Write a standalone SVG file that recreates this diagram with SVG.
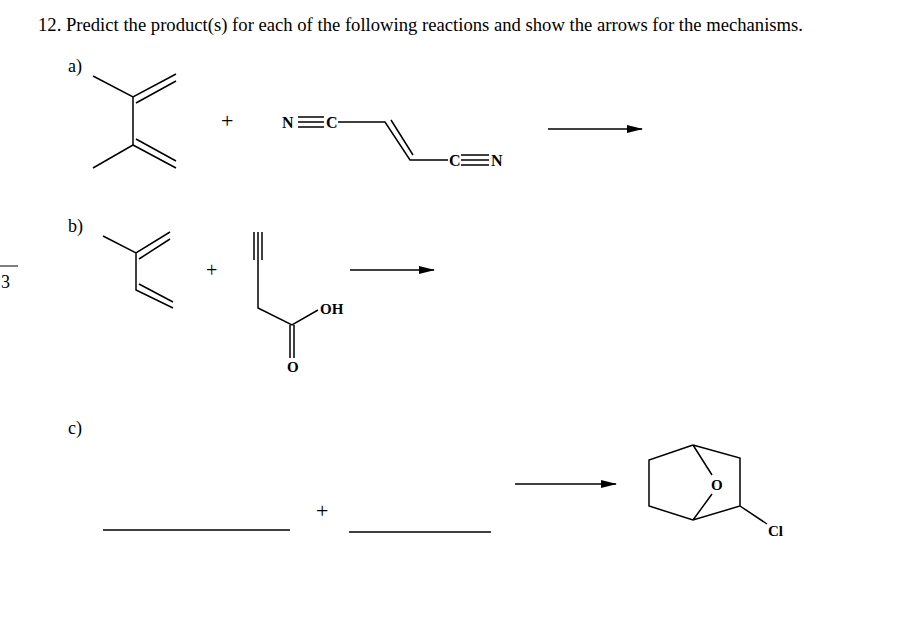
<svg xmlns="http://www.w3.org/2000/svg" width="913" height="625" viewBox="0 0 913 625">
<defs><marker id="ah" markerWidth="16" markerHeight="8" refX="15" refY="4" orient="auto" markerUnits="userSpaceOnUse"><path d="M0,0 L16,4 L0,8 Z" fill="#000"/></marker></defs>
<style>
.b{stroke:#000;stroke-width:1.5;fill:none}
.ar{stroke:#000;stroke-width:1.5;marker-end:url(#ah)}
</style>
<rect width="913" height="625" fill="#fff"/>
<g font-family="Liberation Serif, Times New Roman, serif" font-size="18" fill="#000">
<text x="38" y="31" textLength="765" lengthAdjust="spacingAndGlyphs">12.  Predict the product(s) for each of the following reactions and show the arrows for the mechanisms.</text>
<text x="68" y="72">a)</text>
<text x="68" y="232">b)</text>
<text x="68" y="434">c)</text>
<text x="1" y="288">3</text>
</g>
<line class="b" x1="0" y1="266" x2="18" y2="266" style="stroke-width:1"/>
<g id="diene-a" class="b">
<path d="M93,76 L133,97 L176,74 M136,103 L176,81 M133,97 L133,145 L93,168 M133,145 L176,168 M136,139 L176,161"/>
</g>
<g id="plus-a" font-family="Liberation Serif, serif" font-size="22"><text x="221" y="128">+</text></g>
<g id="fumaronitrile" font-family="Liberation Serif, serif" font-size="16" font-weight="bold">
<text x="282" y="128">N</text>
<path class="b" d="M298,117 L324,117 M298,122 L324,122 M298,127 L324,127"/>
<text x="326" y="128">C</text>
<path class="b" d="M338,122 L385,122 L410,160 L448,160 M391,120 L413,155"/>
<text x="449" y="166">C</text>
<path class="b" d="M461,155 L489,155 M461,160 L489,160 M461,165 L489,165"/>
<text x="491" y="166">N</text>
</g>
<g id="diene-b" class="b">
<path d="M103,236 L136,253 L170,232 M139,259 L170,239 M136,253 L136,290 L173,308 M139,284 L173,302"/>
</g>
<g id="plus-b" font-family="Liberation Serif, serif" font-size="20"><text x="206" y="277">+</text></g>
<g id="butynoic-acid" font-family="Liberation Serif, serif" font-size="15" font-weight="bold">
<path class="b" d="M254,232 L254,260 M258,232 L258,260 M262,232 L262,260 M258,260 L258,308 L292,325 L318,310 M290,325 L290,358 M294,325 L294,358"/>
<text x="320" y="314">OH</text>
<text x="287" y="372">O</text>
</g>
<g id="blank1"><line class="b" x1="103" y1="530" x2="290" y2="530"/></g>
<g id="plus-c" font-family="Liberation Serif, serif" font-size="22"><text x="316" y="518">+</text></g>
<g id="blank2"><line class="b" x1="349" y1="532" x2="491" y2="532"/></g>
<g id="product-c" font-family="Liberation Serif, serif" font-size="15" font-weight="bold">
<path class="b" d="M693,445 L649,460 L649,506 L693,520 L740,506 L740,458 L693,445 M693,445 L712,475 M712,494 L693,520 M740,506 L767,524"/>
<text x="711" y="490">O</text>
<text x="768" y="536">Cl</text>
</g>
<g id="connectors">
<line class="ar" x1="548" y1="129" x2="642" y2="129"/>
<line class="ar" x1="350" y1="270" x2="434" y2="270"/>
<line class="ar" x1="515" y1="484" x2="616" y2="484"/>
</g>
</svg>
